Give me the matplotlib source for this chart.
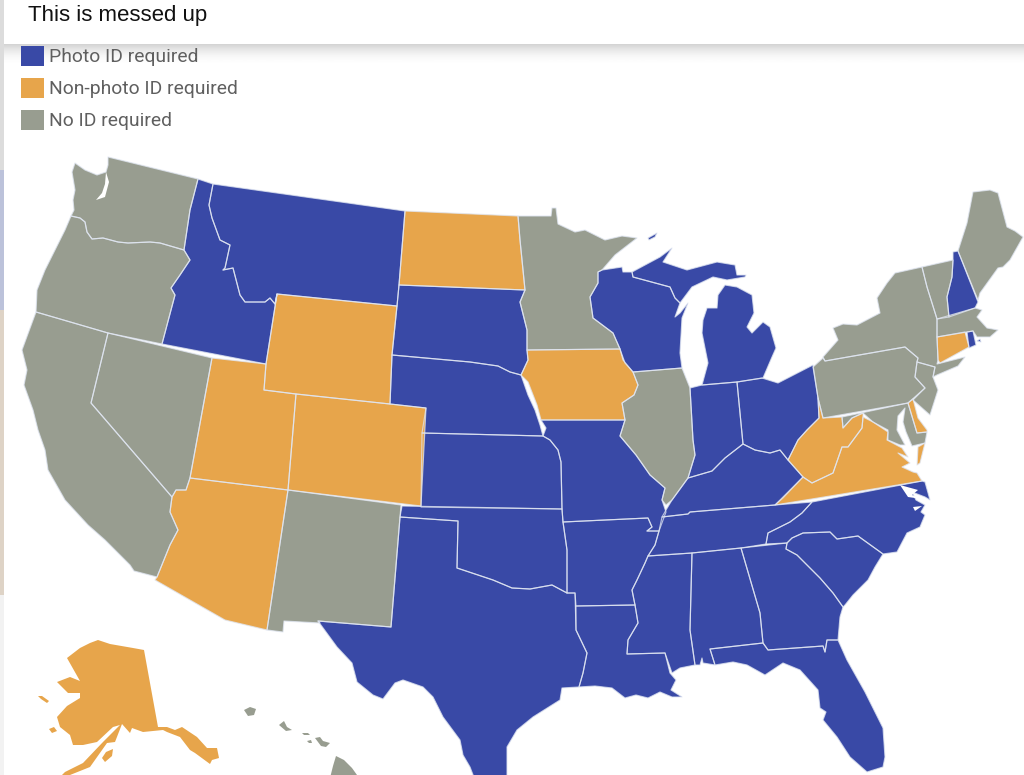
import numpy as np
import matplotlib
matplotlib.use("Agg")
import matplotlib.pyplot as plt
from matplotlib.patches import Polygon, Rectangle, Patch

TITLE = "This is messed up"
CATEGORIES = ["Photo ID required", "Non-photo ID required", "No ID required"]
COLORS = {"Photo ID required": "#3949A6", "Non-photo ID required": "#E7A54B", "No ID required": "#989D90"}

PHOTO_ID = ["ID","MT","SD","NE","KS","OK","TX","MO","AR","LA","MS","AL","GA","FL","SC","NC","TN","KY","IN","OH","MI","WI","NH","RI"]
NON_PHOTO_ID = ["ND","WY","UT","CO","AZ","IA","WV","VA","DE","CT","AK"]
NO_ID = ["WA","OR","CA","NV","NM","MN","IL","PA","NY","NJ","MD","MA","VT","ME","HI"]

# State outlines (no map data is available offline).
OUTLINES = {
"WA": [[(108,157),(198,179),(190,210),(184,250),(160,243),(150,242),(128,243),(118,242),(103,238),(92,239),(87,232),(85,222),(80,218),(71,216),(74,210),(73,200),(75,190),(72,172),(75,163),(85,170),(97,175),(106,172),(108,165)]],
"OR": [[(71,216),(80,218),(85,222),(87,232),(92,239),(103,238),(118,242),(128,243),(150,242),(160,243),(184,250),(190,260),(180,275),(171,288),(175,295),(171,310),(162,344),(108,333),(36,312),(37,290),(45,270),(55,250),(65,230)]],
"CA": [[(36,312),(108,333),(91,403),(172,497),(170,512),(178,530),(170,545),(157,577),(134,571),(130,565),(105,540),(88,525),(65,500),(48,470),(45,450),(38,430),(33,410),(24,385),(27,370),(22,350)]],
"NV": [[(108,333),(212,358),(190,478),(186,490),(176,490),(172,497),(91,403)]],
"ID": [[(198,179),(213,184),(209,205),(212,218),(220,240),(230,245),(225,268),(223,270),(233,268),(240,295),(245,302),(265,302),(270,298),(275,304),(277,294),(266,364),(162,344),(171,310),(175,295),(171,288),(180,275),(190,260),(184,250),(190,210)]],
"MT": [[(213,184),(405,211),(399,285),(397,306),(277,294),(275,304),(270,298),(265,302),(245,302),(240,295),(233,268),(223,270),(225,268),(230,245),(220,240),(212,218),(209,205)]],
"WY": [[(277,294),(397,306),(392,355),(390,404),(296,394),(264,390),(266,364)]],
"UT": [[(212,358),(266,364),(264,390),(296,394),(288,490),(190,478)]],
"CO": [[(296,394),(390,404),(426,408),(421,506),(288,490)]],
"AZ": [[(190,478),(288,490),(267,630),(225,620),(155,580),(157,577),(170,545),(178,530),(170,512),(172,497),(176,490),(186,490)]],
"NM": [[(288,490),(401,505),(391,627),(318,621),(320,623),(284,621),(283,632),(267,630)]],
"TX": [[(400,517),(458,521),(457,568),(472,573),(493,580),(512,588),(530,589),(552,585),(567,593),(575,593),(576,630),(587,653),(583,673),(579,687),(562,688),(560,700),(533,717),(517,730),(507,747),(507,780),(475,780),(470,767),(463,755),(460,740),(443,717),(433,697),(423,687),(403,680),(395,683),(383,699),(373,695),(357,682),(352,663),(337,647),(318,621),(391,627)]],
"OK": [[(402,506),(562,509),(563,522),(567,550),(567,593),(552,585),(530,589),(512,588),(493,580),(472,573),(457,568),(458,521),(400,517)]],
"KS": [[(422,433),(543,436),(550,440),(558,450),(561,462),(562,509),(421,507)]],
"NE": [[(392,355),(470,362),(498,366),(510,372),(521,375),(528,395),(535,410),(540,425),(543,436),(422,433),(426,408),(390,404)]],
"SD": [[(399,285),(525,290),(520,302),(527,330),(527,350),(528,360),(521,375),(510,372),(498,366),(470,362),(392,355),(397,306)]],
"ND": [[(405,211),(518,216),(520,240),(525,290),(399,285)]],
"MN": [[(518,216),(551,216),(552,208),(556,208),(558,224),(575,232),(585,230),(605,240),(622,236),(637,238),(615,255),(602,270),(598,272),(598,283),(590,297),(593,318),(613,333),(620,349),(527,350),(527,330),(520,302),(525,290),(520,240)]],
"IA": [[(527,350),(620,349),(623,360),(633,372),(638,385),(634,395),(622,403),(625,420),(615,420),(541,420),(537,405),(528,382),(521,375),(528,360)]],
"MO": [[(541,420),(625,420),(620,436),(636,455),(650,475),(665,488),(662,500),(666,512),(659,531),(647,531),(652,527),(648,518),(563,522),(562,509),(561,462),(558,450),(550,440),(543,436),(546,428)]],
"AR": [[(563,522),(648,518),(652,527),(647,531),(659,531),(655,545),(648,556),(645,563),(637,580),(632,590),(635,605),(576,606),(575,593),(567,593),(567,550)]],
"LA": [[(576,606),(635,605),(638,623),(628,640),(627,654),(665,653),(670,673),(676,680),(671,690),(682,697),(672,697),(660,692),(648,698),(636,695),(625,698),(612,688),(595,686),(579,687),(583,673),(587,653),(576,630)]],
"MS": [[(648,556),(692,553),(690,630),(695,665),(680,668),(672,673),(665,653),(627,654),(628,640),(638,623),(635,605),(632,590),(637,580),(645,563)]],
"AL": [[(692,553),(741,548),(760,613),(762,633),(763,643),(710,649),(715,665),(703,663),(702,658),(700,665),(695,665),(690,630)]],
"GA": [[(741,548),(787,543),(786,549),(797,555),(820,578),(833,593),(843,607),(840,617),(838,640),(827,640),(825,652),(823,646),(768,650),(763,643),(762,633),(760,613)]],
"FL": [[(710,649),(763,643),(768,650),(823,646),(825,652),(827,640),(838,640),(847,660),(865,692),(883,728),(885,757),(883,767),(867,772),(850,757),(837,737),(823,720),(826,712),(820,708),(818,690),(800,670),(783,663),(765,675),(747,665),(733,662),(715,665)]],
"SC": [[(787,543),(792,538),(803,533),(830,532),(837,539),(858,536),(883,554),(875,567),(868,580),(853,595),(845,605),(843,607),(833,593),(820,578),(797,555),(786,549)]],
"NC": [[(812,502),(922,481),(925,482),(930,500),(925,497),(912,492),(916,500),(925,505),(921,512),(925,515),(920,527),(907,533),(897,552),(883,554),(858,536),(837,539),(830,532),(803,533),(792,538),(787,543),(766,544),(768,533),(790,522),(802,513)]],
"TN": [[(662,517),(688,514),(690,512),(775,505),(812,502),(802,513),(790,522),(768,533),(766,544),(741,548),(692,553),(648,556),(655,545),(659,531)]],
"KY": [[(662,517),(666,510),(672,500),(688,478),(712,471),(725,458),(743,444),(755,450),(770,453),(780,450),(788,460),(803,477),(783,498),(775,505),(690,512),(688,514)]],
"IL": [[(633,372),(682,368),(690,388),(693,440),(695,455),(688,478),(672,500),(666,505),(662,500),(665,488),(650,475),(636,455),(620,436),(625,420),(622,403),(634,395),(638,385)]],
"IN": [[(690,388),(702,385),(737,382),(743,444),(725,458),(712,471),(688,478),(695,455),(693,440)]],
"OH": [[(737,382),(762,378),(778,383),(813,365),(818,398),(819,418),(807,430),(798,440),(788,460),(780,450),(770,453),(755,450),(743,444)]],
"MI": [[(702,385),(708,363),(702,333),(703,320),(707,308),(717,308),(718,295),(725,285),(737,287),(752,295),(754,313),(747,327),(752,333),(763,322),(770,327),(776,348),(772,357),(763,378),(737,382)],
       [(632,272),(660,257),(672,248),(663,262),(687,270),(717,262),(735,265),(737,275),(746,275),(745,277),(727,280),(713,277),(692,287),(680,303),(675,298),(670,287),(633,277)],
       [(648,238),(657,233),(655,237),(649,240)]],
"WI": [[(598,272),(602,270),(622,267),(623,272),(632,272),(633,277),(670,287),(675,298),(680,303),(675,317),(680,313),(688,303),(682,318),(680,353),(682,368),(633,372),(625,363),(620,349),(613,333),(593,318),(590,297),(598,283)]],
"ME": [[(973,192),(990,190),(998,193),(1007,227),(1015,231),(1023,237),(1010,260),(1003,267),(998,268),(980,293),(978,300),(958,251),(967,223)]],
"NH": [[(953,252),(958,251),(978,302),(975,308),(949,317),(947,297),(952,277),(953,260)]],
"VT": [[(922,267),(953,260),(952,277),(947,297),(949,317),(937,319),(927,287)]],
"NY": [[(895,273),(922,267),(927,287),(937,319),(937,337),(938,360),(937,364),(965,357),(958,366),(937,375),(933,377),(935,367),(917,362),(918,358),(905,347),(825,361),(823,357),(838,340),(833,328),(843,324),(857,325),(880,313),(877,298),(887,283)]],
"PA": [[(813,367),(823,358),(825,361),(905,347),(918,358),(917,362),(915,377),(925,388),(908,403),(823,418),(818,398)]],
"NJ": [[(917,362),(935,367),(933,377),(938,390),(930,415),(913,400),(925,388),(915,377)]],
"MA": [[(937,319),(975,308),(982,310),(977,317),(987,328),(998,330),(990,337),(977,337),(973,331),(967,332),(937,337)]],
"CT": [[(937,337),(965,332),(969,347),(940,363),(938,360)]],
"RI": [[(967,332),(973,331),(976,345),(969,348)],[(977,341),(980,339),(981,342)]],
"DE": [[(908,403),(913,399),(918,418),(927,430),(927,432),(917,433)]],
"MD": [[(842,417),(908,403),(917,433),(927,432),(925,443),(912,446),(906,432),(903,422),(905,408),(898,416),(897,430),(905,445),(900,445),(888,440),(888,430),(873,422),(863,413),(852,418),(843,428)]],
"VA": [[(775,505),(803,477),(812,483),(833,473),(842,447),(848,447),(862,428),(863,417),(873,422),(888,432),(887,440),(902,448),(908,457),(898,453),(910,463),(902,467),(913,472),(917,473),(922,481)],
       [(925,443),(920,463),(917,465),(918,447)]],
"WV": [[(818,398),(823,418),(842,417),(843,428),(852,418),(863,413),(863,417),(862,428),(848,447),(842,447),(833,473),(812,483),(803,477),(788,460),(798,440),(807,430),(819,418)]],
"AK": [[(98,640),(110,644),(133,648),(144,650),(158,727),(167,727),(175,730),(182,727),(197,737),(207,748),(217,748),(219,758),(212,760),(210,764),(195,753),(190,750),(180,737),(167,732),(163,730),(143,732),(132,728),(130,733),(122,724),(115,742),(107,743),(90,767),(70,775),(57,780),(65,772),(83,763),(103,742),(120,725),(113,727),(97,742),(83,745),(73,745),(70,735),(60,727),(57,717),(67,706),(80,698),(80,693),(68,693),(57,682),(70,677),(80,681),(67,658),(80,648),(90,643)],
       [(38,696),(42,696),(49,701),(47,703),(41,699)],
       [(49,729),(54,727),(57,731),(52,733)],
       [(102,758),(106,752),(113,749),(112,756),(105,762)]],
"HI": [[(244,710),(250,707),(256,709),(254,715),(248,716)],
       [(279,725),(284,721),(287,727),(292,730),(286,731)],
       [(302,733),(308,733),(310,735),(304,735)],
       [(307,741),(311,740),(312,743),(309,743)],
       [(315,738),(320,737),(323,741),(330,743),(326,747),(321,746)],
       [(336,756),(344,760),(352,768),(357,775),(330,778),(333,766)]],
}
# Water drawn over the land, as in the reference.
WATER = [[(900,485),(918,490),(912,495),(922,499),(908,497)],[(913,507),(922,506),(915,511)],
         [(106,172),(109,182),(105,197),(96,200),(102,193),(105,184)]]

fig = plt.figure(figsize=(10.24, 7.75), dpi=100, facecolor="white")
ax = fig.add_axes([0, 0, 1, 1])
ax.set_axis_off()

# Left screenshot strip and header shadow
for y0, y1, c in [(0,170,"#dcdcdc"),(170,310,"#bcc2da"),(310,595,"#ded3c6"),(595,775,"#f2f2f2")]:
    ax.add_patch(Rectangle((0,y0),4,y1-y0,fc=c,ec="none",zorder=1))
shade = 1 - 0.17 * np.linspace(1, 0, 24)[:, None] ** 2
ax.imshow(shade, cmap="gray", vmin=0, vmax=1, extent=(4,1024,66,44), aspect="auto", zorder=1)
ax.add_patch(Rectangle((4,0),1020,43.5,fc="white",ec="none",zorder=2))

for cat, group in zip(CATEGORIES, [PHOTO_ID, NON_PHOTO_ID, NO_ID]):
    for st in group:
        for ring in OUTLINES[st]:
            ax.add_patch(Polygon(ring, closed=True, fc=COLORS[cat], ec="none", zorder=3))
for cat, group in zip(CATEGORIES, [PHOTO_ID, NON_PHOTO_ID, NO_ID]):
    for st in group:
        if st in ("AK","HI"):
            continue
        for ring in OUTLINES[st]:
            ax.add_patch(Polygon(ring, closed=True, fc="none", ec=(0.88,0.90,0.95,0.75), lw=0.85, joinstyle="round", zorder=4))
for ring in WATER:
    ax.add_patch(Polygon(ring, closed=True, fc="white", ec="none", zorder=5))

ax.set_xlim(0, 1024)
ax.set_ylim(775, 0)

ax.text(28, 21, TITLE, fontsize=16, family="Liberation Sans", color="#111111", va="baseline", ha="left", zorder=6)

handles = [Patch(fc=COLORS[c], ec="none", label=c) for c in CATEGORIES]
fs = 13.9
leg = ax.legend(handles=handles, loc="upper left", bbox_to_anchor=(21/1024, 1-46/775), bbox_transform=ax.transAxes,
                frameon=False, fontsize=fs, borderpad=0, borderaxespad=0, handlelength=16.6/fs, handleheight=16.6/fs,
                handletextpad=3.6/fs, labelspacing=8.4/fs, prop={"family":"Roboto","size":fs}, labelcolor="#5f5f5f")
leg.set_zorder(7)

fig.savefig("out.png", dpi=100)
